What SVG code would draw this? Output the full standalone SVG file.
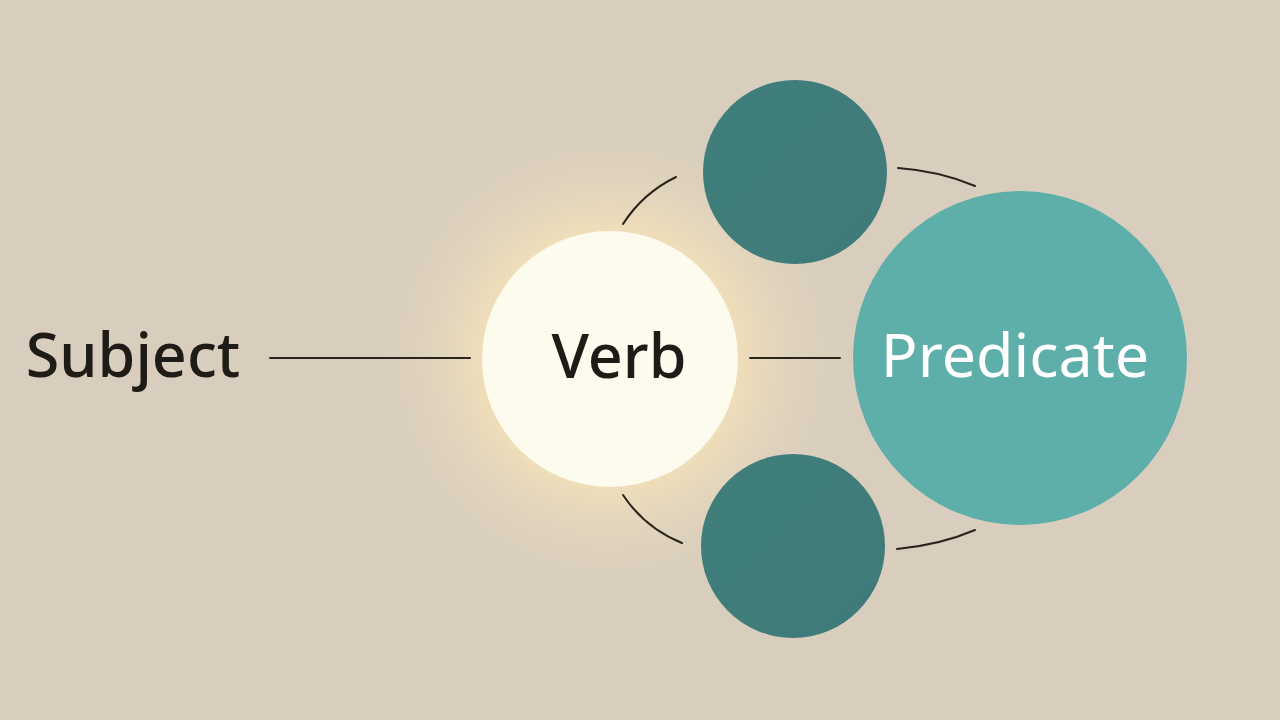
<svg xmlns="http://www.w3.org/2000/svg" width="1280" height="720" viewBox="0 0 1280 720">
<defs>
<radialGradient id="glow" cx="610" cy="358" r="250" gradientUnits="userSpaceOnUse">
<stop offset="0.45" stop-color="#f5e2b6" stop-opacity="1"/>
<stop offset="0.65" stop-color="#ecdcbd" stop-opacity="0.6"/>
<stop offset="1" stop-color="#d9cebd" stop-opacity="0"/>
</radialGradient>
<linearGradient id="dark" x1="0" y1="0" x2="1" y2="1">
<stop offset="0" stop-color="#3f7f7b"/>
<stop offset="1" stop-color="#3f7a79"/>
</linearGradient>
<style>
.conn{fill:none;stroke:#2a241c;stroke-width:2;stroke-linecap:round}
.lbl{font-family:"Noto Sans","Open Sans",sans-serif;font-size:61px;text-anchor:middle}
</style>
</defs>
<rect width="1280" height="720" fill="#d9cebd"/>
<circle cx="610" cy="358" r="250" fill="url(#glow)"/>
<g id="connectors">
<line class="conn" x1="270" y1="358" x2="470" y2="358"/>
<line class="conn" x1="750" y1="358" x2="840" y2="358"/>
<path class="conn" d="M623,224 Q643,193 676,177"/>
<path class="conn" d="M898,168 Q940,171 975,186"/>
<path class="conn" d="M623,495 Q645,528 682,543"/>
<path class="conn" d="M897,549 Q940,545 975,530"/>
</g>
<g id="subject">
<text class="lbl" x="133" y="377" fill="#1f1b16" font-weight="500">Subject</text>
</g>
<g id="verb">
<circle cx="610" cy="359" r="128" fill="#fdfbee"/>
<text class="lbl" x="619" y="378" fill="#1f1b16" font-weight="500">Verb</text>
</g>
<g id="top">
<circle cx="795" cy="172" r="92" fill="url(#dark)"/>
</g>
<g id="bottom">
<circle cx="793" cy="546" r="92" fill="url(#dark)"/>
</g>
<g id="predicate">
<circle cx="1020" cy="358" r="167" fill="#5eaeaa"/>
<text class="lbl" x="1015" y="377" fill="#ffffff">Predicate</text>
</g>
</svg>
